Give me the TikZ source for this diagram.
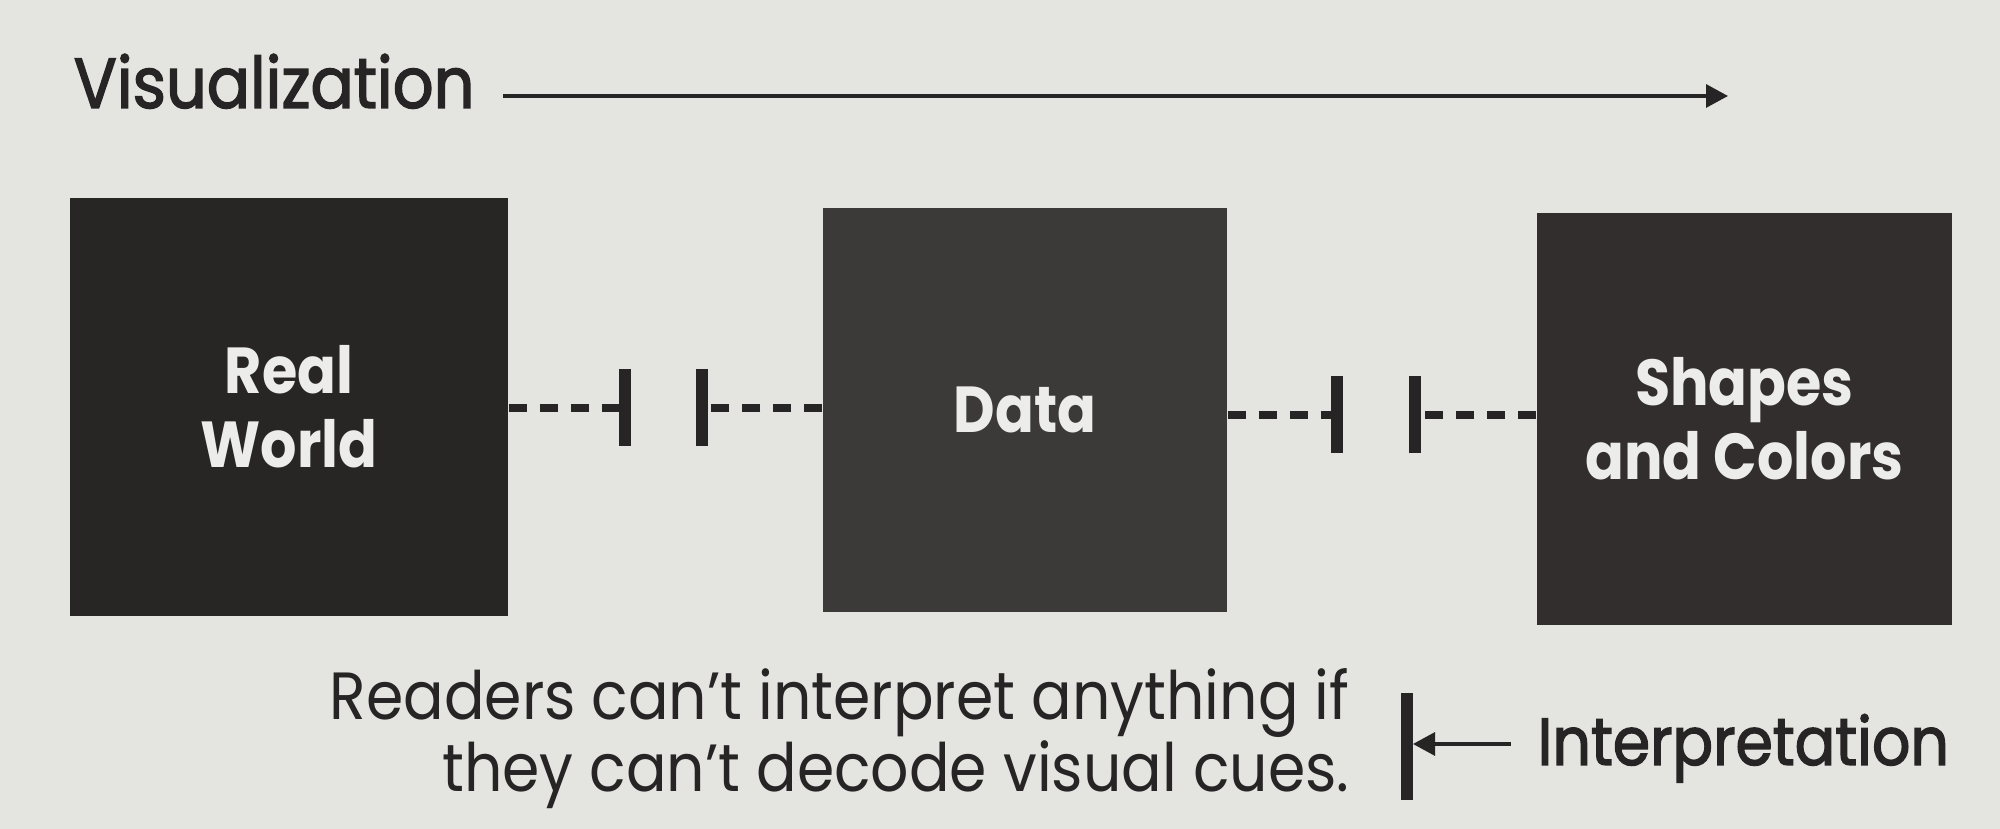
\documentclass[tikz,border=0pt]{standalone}
\usepackage{fontspec}
\setmainfont{Poppins}[FakeStretch=0.88]
\newfontfamily\headfont{Poppins}[FakeStretch=0.9, FakeBold=2]
\newfontfamily\notefont{Poppins}[FakeStretch=0.9]
\usetikzlibrary{arrows.meta}
\usetikzlibrary{positioning}
\definecolor{paper}{RGB}{228,228,224}
\definecolor{ink}{RGB}{38,36,36}
\definecolor{realfill}{RGB}{40,37,37}
\definecolor{datafill}{RGB}{60,57,57}
\definecolor{shapefill}{RGB}{50,46,46}
\definecolor{boxtext}{RGB}{236,236,234}
\tikzset {
  % the three stages
  stage/.style = {
    rectangle,
    inner sep = 0,
    text = boxtext,
    align = center,
    font = \bfseries\fontsize{18.5}{21}\selectfont
  },
  % labels on the paper
  heading/.style = {
    inner sep = 0,
    text = ink,
    font = \headfont\fontsize{19}{22}\selectfont
  },
  note/.style = {
    inner sep = 0,
    text = ink,
    align = right,
    font = \notefont\fontsize{19}{20.5}\selectfont
  }
}
\tikzset {
  flow/.style = {
    draw = ink,
    line width = 0.9pt,
    -{Triangle[length = 0.22cm, width = 0.23cm]}
  },
  % dashed link that stops at a bar
  cut line/.style = {
    draw = ink,
    line width = 2.3pt,
    dash pattern = on 0.18cm off 0.13cm,
    -{Bar[width = 0.77cm, line width = 3.4pt]}
  },
  cut bar/.style = {
    draw = ink,
    line width = 3.4pt
  }
}

\begin{document}
\begin{tikzpicture}
  \fill[paper] (0, 0) rectangle (20, 8.29);
  \useasboundingbox (0, 0) rectangle (20, 8.29);

  \node[heading, anchor = base west, font = \headfont\fontsize{20.2}{22}\selectfont]
    (visual) at (0.73, 7.21) {Visualization};
  \coordinate (flow end) at (17.28, 7.33);
  \draw[flow] ([xshift = 0.28cm]visual.east |- flow end) -- (flow end);

  \node[stage, fill = realfill, minimum width = 4.38cm, minimum height = 4.18cm]
    (real) at (2.89, 4.22) {Real\\World};
  \node[stage, fill = datafill, minimum width = 4.04cm, minimum height = 4.04cm]
    (data) at (10.25, 4.19) {Data};
  \node[stage, fill = shapefill, minimum width = 4.15cm, minimum height = 4.12cm]
    (shapes) at (17.445, 4.10) {Shapes\\and Colors};

  \coordinate (cut1a) at (6.31, 4.21);
  \coordinate (cut1b) at (6.96, 4.21);
  \coordinate (cut2a) at (13.43, 4.14);
  \coordinate (cut2b) at (14.09, 4.14);

  \draw[cut line] (real.east |- cut1a) -- (cut1a);
  \draw[cut line] (data.west |- cut1b) -- (cut1b);
  \draw[cut line] (data.east |- cut2a) -- (cut2a);
  \draw[cut line] (shapes.west |- cut2b) -- (cut2b);

  \node[note, anchor = base east] (readers) at (13.50, 0.37)
    {Readers can’t interpret anything if\\they can’t decode visual cues.};

  \coordinate (interp top) at (14.07, 1.36);
  \coordinate (interp bottom) at (14.07, 0.29);
  \coordinate (interp hit) at (14.13, 0.85);
  \draw[cut bar] (interp top) -- (interp bottom);

  \node[heading, anchor = base west] (interp) at (15.37, 0.64) {Interpretation};
  \draw[flow] ([xshift = -0.26cm]interp.west |- interp hit) -- (interp hit);
\end{tikzpicture}
\end{document}
